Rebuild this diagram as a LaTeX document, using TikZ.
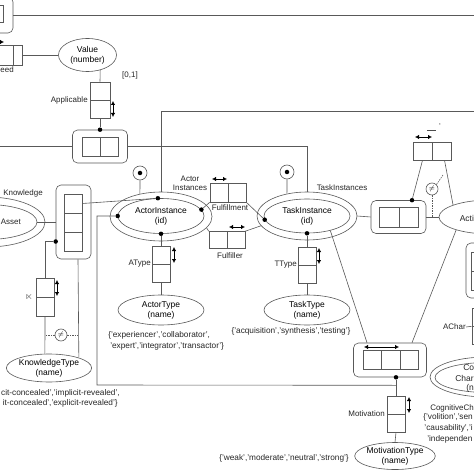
\documentclass[tikz,border=0pt]{standalone}
\usepackage{amssymb}
\usepackage{fontspec}
\setmainfont{Liberation Sans}
\usetikzlibrary{shapes.geometric,arrows.meta,calc}
\begin{document}
\begin{tikzpicture}[x=1bp,y=-1bp,line width=0.6bp,
 ln/.style={draw=black!65},
 ell/.style={ellipse,draw=black!65,inner sep=0pt,align=center,font=\fontsize{8.5}{10}\selectfont},
 ring/.style={ellipse,draw=black!65,inner sep=0pt},
 cell/.style={rectangle,draw=black!65,inner sep=0pt,minimum width=18bp,minimum height=18bp},
 rframe/.style={rectangle,rounded corners=5bp,draw=black!65,inner sep=0pt},
 mdot/.style={circle,fill=black,inner sep=0pt,minimum size=4.5bp},
 lbl/.style={inner sep=0pt,font=\fontsize{8}{9.5}\selectfont,text=black!85,align=center},
 val/.style={inner sep=0pt,font=\fontsize{8.3}{10.5}\selectfont,text=black!85},
 etxt/.style={inner sep=0pt,font=\fontsize{8.5}{10.5}\selectfont,text=black!85,align=center},
 uarr/.style={{Latex[length=4bp,width=4.5bp]}-{Latex[length=4bp,width=4.5bp]},line width=0.8bp},
 tgt/.style={circle,draw=black!65,inner sep=0pt,minimum size=14bp},
 neq/.style={circle,draw=black!65,inner sep=0pt,minimum size=12bp,font=\fontsize{7}{7}\selectfont},
 dsh/.style={draw=black!65,dash pattern=on 1.5bp off 1bp},
]
\fill[white] (0,0) rectangle (474,474);
\useasboundingbox (0,0) rectangle (474,474);

% ---------- top left
\node[rframe,minimum width=30bp,minimum height=36bp] (tlf) at (-2,15) {};
\node[cell,minimum height=17bp] (tlc) at (-6,14) {};
\coordinate (tlr) at (480,0);
% Exceed (cut at the edge)
\node[cell,minimum width=18bp,minimum height=20bp] (ex1) at (4,55) {};
\node[cell,minimum width=9.5bp,minimum height=20bp] (ex2) at (17.75,55) {};
\draw[uarr] (-8,42) -- (4,42);
\node[lbl,anchor=north east] (exl) at (14,66) {eed};
\node[ell,minimum width=58bp,minimum height=33bp] (val) at (87.5,55) {Value\\(number)};
\node[lbl] (rng) at (130,75) {[0,1]};

% ---------- Applicable
\node[cell,minimum width=20bp] (ap1) at (100,91) {};
\node[cell,minimum width=20bp] (ap2) at (100,109) {};
\node[lbl,anchor=east] (apl) at (88,100) {Applicable};
\draw[uarr] (113,101) -- (113,117);
\node[rframe,minimum width=55bp,minimum height=33bp] (apf) at (100,146.5) {};
\node[cell,minimum height=19bp] (ab1) at (91,146.5) {};
\node[cell,minimum height=19bp] (ab2) at (109,146.5) {};
\node[mdot] (apd) at (apf.north) {};
\coordinate (lft) at (-5,0);

% ---------- ActorInstance
\node[ring,minimum width=102bp,minimum height=49bp] (aio) at (161,216.5) {};
\node[ell,minimum width=86bp,minimum height=35bp] (ai) at (161,216) {ActorInstance\\(id)};
\node[tgt] (tgA) at (140,173) {};
\node[mdot] (tgAd) at (tgA) {};
\node[lbl] (actl) at (190,183.5) {Actor\\Instances};
\node[mdot] (aiN) at (ai.100) {};
\node[mdot] (aiS) at (ai.south) {};
\node[mdot] (aiW) at (ai.west) {};
\node[mdot] (aiE) at (ai.9) {};

% ---------- TaskInstance
\node[ring,minimum width=100bp,minimum height=48bp] (tio) at (307,216) {};
\node[ell,minimum width=86bp,minimum height=34bp] (ti) at (307,216) {TaskInstance\\(id)};
\node[tgt] (tgT) at (287,172) {};
\node[mdot] (tgTd) at (tgT) {};
\node[mdot] (tiW) at (ti.185) {};
\node[mdot] (tiS) at (ti.south) {};
\node[lbl] (til) at (342,188) {TaskInstances};

% ---------- Fulfillment / Fulfiller
\node[cell,minimum height=19bp] (fu1) at (219,192.5) {};
\node[cell,minimum height=19bp] (fu2) at (237,192.5) {};
\draw[uarr] (212,179) -- (227,179);
\node[lbl] (ful) at (230,208) {Fulfillment};
\node[cell,minimum height=17bp] (fr1) at (218,240) {};
\node[cell,minimum height=17bp] (fr2) at (236,240) {};
\draw[uarr] (229,227) -- (245,227);
\node[lbl] (frl) at (230,256) {Fulfiller};

% ---------- Knowledge
\node[ring,minimum width=116bp,minimum height=50bp] (kao) at (-13,222) {};
\node[ring,minimum width=100bp,minimum height=35bp] (kai) at (-13,222) {};
\node[etxt,font=\fontsize{8}{9}\selectfont,anchor=west] (kait) at (0.5,222) {Asset};
\node[lbl] (knl) at (23,193) {Knowledge};
\node[rframe,minimum width=35bp,minimum height=74bp] (kf) at (73.5,222) {};
\node[cell,minimum height=19bp] (kc1) at (73,203.5) {};
\node[cell,minimum height=19bp] (kc2) at (73,222.5) {};
\node[cell,minimum height=19bp] (kc3) at (73,241.5) {};
\node[mdot] (kfd) at (kf.west |- kc3) {};
\node[cell,minimum height=19bp] (kr1) at (45,287.5) {};
\node[cell,minimum height=19bp] (kr2) at (45,306.5) {};
\draw[uarr] (57,280) -- (57,296);
\node[inner sep=0pt,font=\fontsize{10}{10}\selectfont,text=black!80] (ring1) at (29,297) {$\ltimes$};
\node[ell,minimum width=84bp,minimum height=28bp] (kt) at (49,368) {KnowledgeType\\(name)};
\node[neq] (nq1) at (61,335) {$\neq$};
\coordinate (kfs) at ([xshift=4.5bp]kf.south);
\node[val,anchor=east] (ktv1) at (120,393) {cit-concealed','implicit-revealed',};
\node[val,anchor=east] (ktv2) at (118,403) {it-concealed','explicit-revealed'\}};

% ---------- AType
\node[cell] (at1) at (161,255) {};
\node[cell] (at2) at (161,273) {};
\node[lbl,anchor=east] (atl) at (151,264) {AType};
\draw[uarr] (174,247) -- (174,263);
\node[ell,minimum width=86bp,minimum height=30bp] (aty) at (161,310) {ActorType\\(name)};
\node[val,anchor=west] (atv1) at (108,335) {\{'experiencer','collaborator',};
\node[val,anchor=west] (atv2) at (110,346) {'expert','integrator','transactor'\}};

% ---------- TType
\node[cell] (tt1) at (307,256) {};
\node[cell] (tt2) at (307,274) {};
\node[lbl,anchor=east] (ttl) at (297,265) {TType};
\draw[uarr] (319,248) -- (319,264);
\node[ell,minimum width=86bp,minimum height=30bp] (tty) at (307,310) {TaskType\\(name)};
\node[val] (ttv) at (291,331) {\{'acquisition','synthesis','testing'\}};

% ---------- right frame and the cut ellipse
\node[rframe,minimum width=55bp,minimum height=33bp] (rf) at (398.5,217) {};
\node[cell,minimum width=19.5bp,minimum height=20bp] (rc1) at (389.5,217) {};
\node[cell,minimum width=19.5bp,minimum height=20bp] (rc2) at (409,217) {};
\coordinate (rfdp) at ($(rf.north)+(13.5,0)$);
\node[mdot] (rfd) at (rfdp) {};
\node[ring,minimum width=102bp,minimum height=34bp] (act) at (490,217) {};
\node[etxt,anchor=west] (actt) at (459.5,218) {Acti};
\node[neq] (nq2) at (432,189) {$\neq$};
\coordinate (nq2t) at (443,175);
\node[cell,minimum width=19bp] (tr1) at (422.5,151) {};
\node[cell,minimum width=19bp] (tr2) at (441.5,151) {};
\draw[uarr] (415,137) -- (432,137);
\draw[line width=0.4bp,black!70] (427,130) -- (436,130);
\node[inner sep=0pt,font=\fontsize{4}{4}\selectfont] (star) at (440,125) {*};

% below the cut ellipse
\node[rframe,minimum width=30bp,minimum height=55bp] (rf2) at (481,270.5) {};
\node[cell,minimum height=19bp] (rf2a) at (480,261.5) {};
\node[cell,minimum height=19bp] (rf2b) at (480,280.5) {};
\node[lbl,anchor=east] (acl) at (466,327) {AChar};
\node[cell] (ac1) at (481,317) {};
\node[cell] (ac2) at (481,335) {};

% Cognitive characteristic (cut at the edge)
\node[ring,minimum width=114bp,minimum height=40bp] (cco) at (487,377) {};
\node[ring,minimum width=104bp,minimum height=30bp] (cc) at (487,377.5) {};
\node[etxt,anchor=west] (cct1) at (463,367.5) {Co};
\node[etxt,anchor=west] (cct2) at (455,378) {Char};
\node[etxt,anchor=west] (cct3) at (466,388.5) {(n};
\node[lbl,anchor=west] (ccl) at (430,408) {CognitiveCh};
\node[val,anchor=west] (ccv1) at (423,417.5) {\{'volition','sen};
\node[val,anchor=east] (ccv2) at (473,428.5) {'causability','i};
\node[val,anchor=west] (ccv3) at (427,439) {'independen};

% ---------- ternary frame and Motivation
\node[rframe,minimum width=73bp,minimum height=34bp] (mf) at (390,360) {};
\node[cell,minimum width=18.5bp,minimum height=19bp] (mc1) at (372.5,359.5) {};
\node[cell,minimum width=18.5bp,minimum height=19bp] (mc2) at (391,359.5) {};
\node[cell,minimum width=18.5bp,minimum height=19bp] (mc3) at (409.5,359.5) {};
\draw[uarr] (364,347) -- (399,347);
\coordinate (mfdp) at ($(mf.south)+(6,0)$);
\node[mdot] (mfd) at (mfdp) {};
\node[cell] (mo1) at (396,405) {};
\node[cell] (mo2) at (396,423) {};
\node[lbl,anchor=east] (mol) at (385,414) {Motivation};
\draw[uarr] (409,397) -- (409,413);
\node[ell,minimum width=78bp,minimum height=27bp] (mt) at (395,456) {MotivationType\\(name)};
\node[val] (mtv) at (284,458) {\{'weak','moderate','neutral','strong'\}};

% ---------- connectors
\draw[ln] (tlf.east) -- (tlf.east -| tlr);
\draw[ln] (ex2.east) -- (val.west);
\draw[ln] (val.-50) -- (ap1.north);
\draw[ln] (ap2.south) -- (apd);
\draw[ln] (apf.west) -- (apf.west -| lft);
\draw[ln] (apf.east) -| (tio.north);
\coordinate (r111) at (480,111);
\draw[ln] (r111) -| (aio.north);
\draw[ln] (tgA.south) -- (aio.133);
\draw[ln] (tgT.south) -- (tio.132);
\draw[ln] (aiE) -- (fu1.south west);
\draw[ln] (fu2.south east) -- (tiW);
\draw[ln] (fr1.north west) -- (aio.-14);
\draw[ln] (fr2.north east) -- (tio.192);
\draw[ln] (kai.east) -- (kf.west);
\draw[ln] (kc1.east) -- (aiN);
\draw[ln] (kfd) -| (kr1.north);
\draw[ln] (kr2.south) -- (kt.106);
\draw[ln] (kfs) -- (kt.19);
\draw[dsh] (nq1.west) -- (nq1.west -| kr2.center);
\draw[dsh] (nq1.east) -- (nq1.east -| kfs);
\draw[ln] (aiS) -- (at1.north);
\draw[ln] (at2.south) -- (aty.north);
\draw[ln] (tiS) -- (tt1.north);
\draw[ln] (tt2.south) -- (tty.north);
\draw[ln] (tio.east) -- (rf.west);
\draw[ln] (rf.east) -- (act.west);
\draw[dsh] (nq2.south) -- (nq2.south |- rf.east);
\draw[dsh] (nq2.45) -- (nq2t);
\draw[ln] (tr1.south) -- (rfd);
\draw[ln] ([xshift=3bp]tr2.south) -- (act.162);
\draw[ln] (acl.east) -- (ac1.south west);
\draw[ln] (ti.-32) -- ($(mf.north)+(-23,0)$);
\draw[ln] (act.201) -- ($(mf.north)+(22,0)$);
\draw[ln] (mfd) -- (mo1.north);
\draw[ln] (mo2.south) -- (mt.north);
\coordinate (b1) at (97,216);
\coordinate (b2) at (97,385);
\coordinate (b3) at ($(mfd)+(0,8)$);
\draw[ln] (aiW) -- (b1) -- (b2) -- (b3);
\end{tikzpicture}
\end{document}
